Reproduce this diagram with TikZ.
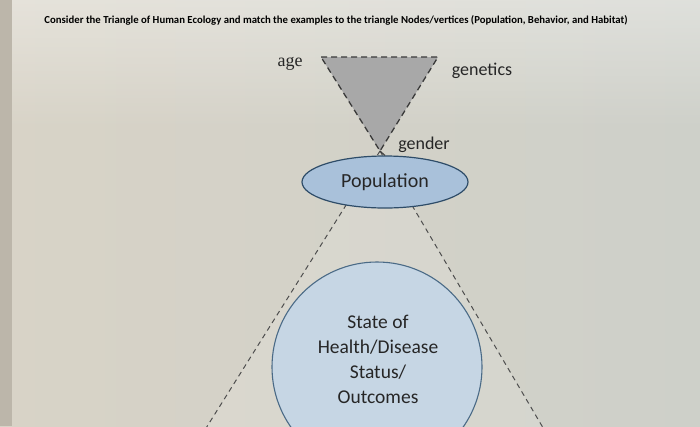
\documentclass[tikz,border=0pt]{standalone}
\usepackage{fontspec}
\setmainfont{Carlito}
\newfontfamily\serifage{Liberation Serif}
\usetikzlibrary{shapes.geometric,fadings}
\definecolor{bgleft}{HTML}{D8D3C7}
\definecolor{bgright}{HTML}{CED0C9}
\definecolor{stripc}{HTML}{BCB6AA}
\definecolor{trifill}{HTML}{A8A8A8}
\definecolor{triedge}{HTML}{3A3A3A}
\definecolor{popfill}{HTML}{A9C1DA}
\definecolor{popedge}{HTML}{2E4C68}
\definecolor{circfill}{HTML}{C6D6E4}
\definecolor{circedge}{HTML}{4A6A86}
\definecolor{txt}{HTML}{262626}
\definecolor{lowedge}{HTML}{4E4E4E}
\tikzset{
  lbl/.style={text=txt, inner sep=0pt, font=\fontsize{18}{20}\selectfont},
  topedge/.style={draw=triedge, line width=1.3pt, dash pattern=on 6pt off 4pt},
  lowline/.style={draw=lowedge, line width=1pt, dash pattern=on 5pt off 4pt},
  popnode/.style={ellipse, draw=popedge, line width=1.2pt, fill=popfill, minimum width=166pt, minimum height=52pt, inner sep=0pt, text=txt, font=\fontsize{20}{22}\selectfont},
  healthnode/.style={circle, draw=circedge, line width=1.1pt, fill=circfill, minimum size=210pt, inner sep=0pt, text=txt, align=center, font=\fontsize{19.5}{25}\selectfont}
}
\begin{document}
\begin{tikzpicture}[x=1pt,y=-1pt]
\useasboundingbox (0,0) rectangle (700,426);
\clip (0,0) rectangle (700,426);
% background
\shade[left color=bgleft, right color=bgright] (0,0) rectangle (700,426);
\fill[white, opacity=0.35, path fading=south] (0,0) rectangle (700,130);
\fill[stripc] (0,0) rectangle (12,426);
% title
\node[anchor=center, text=black, inner sep=0pt] (title) at (336,20) {\resizebox{583pt}{!}{\bfseries Consider the Triangle of Human Ecology and match the examples to the triangle Nodes/vertices (Population, Behavior, and Habitat)}};
% coordinates
\coordinate (apex) at (380,151);
\coordinate (tl) at (321,57);
\coordinate (tr) at (438,57);
\coordinate (bl) at (186,460);
\coordinate (br) at (562,460);
% lower triangle
\fill[white, opacity=0.12] (apex) -- (bl) -- (br) -- cycle;
\draw[lowline] (apex) -- (bl);
\draw[lowline] (apex) -- (br);
% top triangle
\fill[trifill] (tl) -- (tr) -- (apex) -- cycle;
\draw[topedge] (tl) -- (tr) -- (apex) -- cycle;
% nodes
\node[popnode] (pop) at (385,182) {Population};
\draw[triedge, line width=1pt] (apex) -- (pop.north);
\node[healthnode] (health) at (377,367) {};
\node[text=txt, align=center, inner sep=0pt, font=\fontsize{19.5}{25}\selectfont] (htext) at (378,359) {State of\\Health/Disease\\Status/\\Outcomes};
% labels
\node[lbl, font=\serifage\fontsize{18}{20}\selectfont] (age) at (290,64) {age};
\node[lbl] (genetics) at (482,71) {genetics};
\node[lbl] (gender) at (424,145) {gender};
\end{tikzpicture}
\end{document}
